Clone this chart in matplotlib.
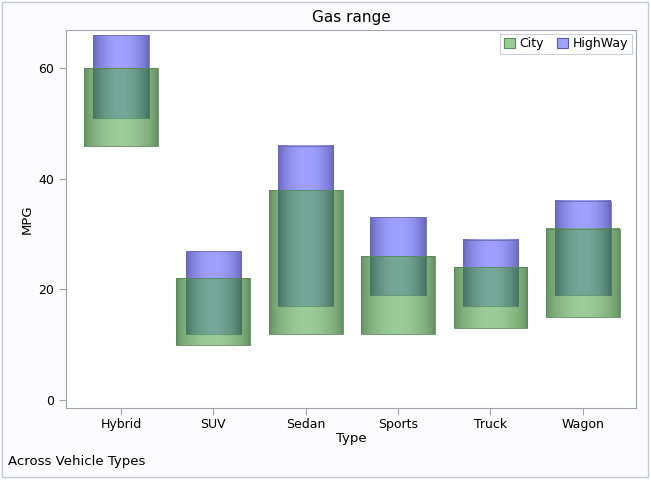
import numpy as np
import matplotlib
matplotlib.use('Agg')
import matplotlib.pyplot as plt
from matplotlib.patches import Rectangle, Patch

types = ['Hybrid', 'SUV', 'Sedan', 'Sports', 'Truck', 'Wagon']
city_low = [46, 10, 12, 12, 13, 15]
city_high = [60, 22, 38, 26, 24, 31]
hwy_low = [51, 12, 17, 19, 17, 19]
hwy_high = [66, 27, 46, 33, 29, 36]


def gradient(edge, center, alpha, n=64):
    t = np.linspace(0, 1, n)
    w = np.sin(np.pi * t) ** 0.7
    edge = np.array(edge) / 255.0
    center = np.array(center) / 255.0
    rgb = edge[None, :] + (center - edge)[None, :] * w[:, None]
    a = np.full((n, 1), alpha)
    return np.hstack([rgb, a])[None, :, :]


fig = plt.figure(figsize=(6.51, 4.80), dpi=100)
fig.patch.set_facecolor('#fcfcfe')
fig.add_artist(Rectangle((0.003, 0.006), 0.992, 0.99, transform=fig.transFigure,
                         fill=False, edgecolor='#c8ccd2', lw=1))
ax = fig.add_axes([66 / 651, 72 / 480, 570 / 651, 378 / 480])
ax.set_facecolor('white')

x = np.arange(len(types))
blue_img = gradient((100, 100, 185), (160, 160, 255), 1.0)
green_img = gradient((5, 76, 0), (95, 172, 89), 0.62)

for i in range(len(types)):
    ax.imshow(blue_img, extent=[x[i] - 0.3, x[i] + 0.3, hwy_low[i], hwy_high[i]],
              aspect='auto', zorder=2, interpolation='bilinear')
ax.bar(x, np.array(hwy_high) - np.array(hwy_low), bottom=hwy_low, width=0.6,
       fill=False, edgecolor='#6a6ab0', lw=0.6, zorder=3)
for i in range(len(types)):
    ax.imshow(green_img, extent=[x[i] - 0.4, x[i] + 0.4, city_low[i], city_high[i]],
              aspect='auto', zorder=4, interpolation='bilinear')
ax.bar(x, np.array(city_high) - np.array(city_low), bottom=city_low, width=0.8,
       fill=False, edgecolor='#5a865a', lw=0.6, zorder=5)

ax.set_xlim(-0.595, 5.575)
ax.set_ylim(-1.45, 66.9)
ax.set_xticks(x)
ax.set_xticklabels(types)
ax.set_yticks([0, 20, 40, 60])
for s in ax.spines.values():
    s.set_color('#a0a4a8')
ax.tick_params(colors='#a0a4a8', labelcolor='black', labelsize=9, length=5)
ax.tick_params(axis='x', pad=2)
ax.set_xlabel('Type', fontsize=9.5, labelpad=1)
ax.set_ylabel('MPG', fontsize=9.5, labelpad=3)
ax.set_title('Gas range', fontsize=11, pad=6)

handles = [Patch(facecolor='#9ccc98', edgecolor='#5f8f5c', lw=0.8, label='City'),
           Patch(facecolor='#a0a0ff', edgecolor='#5a5aa0', lw=0.8, label='HighWay')]
leg = ax.legend(handles=handles, loc='upper right', ncol=2, fontsize=9, frameon=True,
                fancybox=False, handlelength=0.9, handleheight=0.9, handletextpad=0.4,
                columnspacing=1.0, borderaxespad=0.3, borderpad=0.3)
leg.get_frame().set_edgecolor('#c0c4c8')
leg.get_frame().set_linewidth(0.8)

fig.text(8 / 651, 1 - 461 / 480, 'Across Vehicle Types', fontsize=9.5, va='center', ha='left')

fig.savefig('out.png', dpi=100, facecolor=fig.get_facecolor())
